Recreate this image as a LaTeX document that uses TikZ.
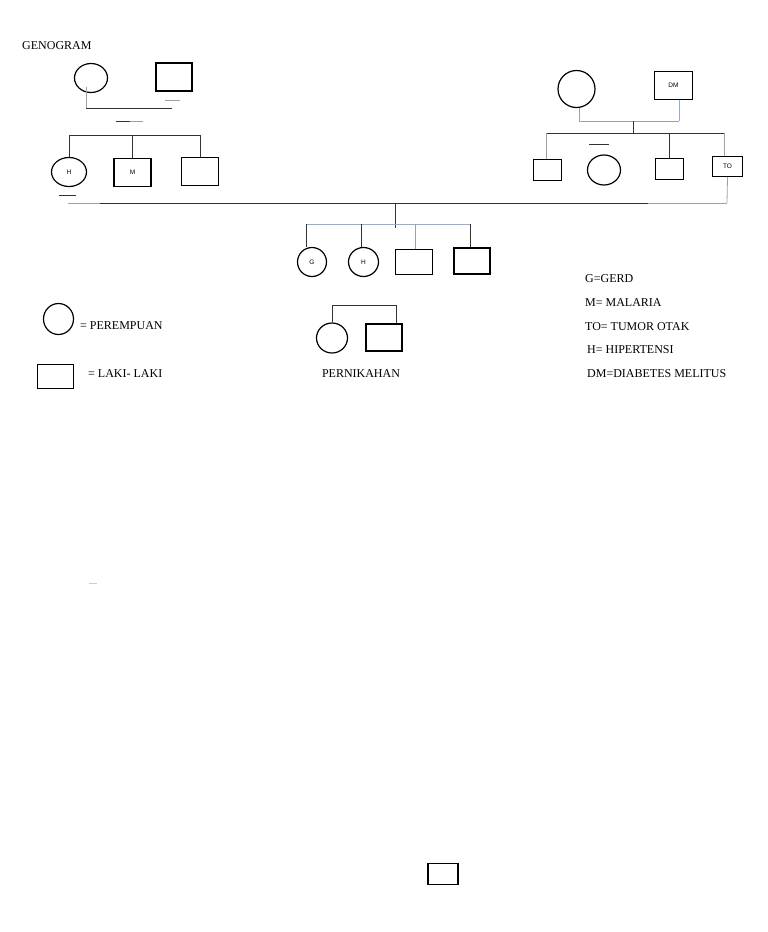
\documentclass[tikz,border=0pt]{standalone}
\usepackage{fontspec}
\setmainfont{Liberation Serif}
\setsansfont{Liberation Sans}
\usetikzlibrary{shapes.geometric}
\definecolor{ln}{HTML}{333333}
\definecolor{lg}{HTML}{A0A0A0}
\definecolor{lb}{HTML}{8FAFD6}
\begin{document}
\begin{tikzpicture}[x=1pt,y=-1pt,
  fem/.style={draw,ellipse,inner sep=0pt,line width=1.2pt},
  male/.style={draw,rectangle,inner sep=0pt,line width=1.2pt},
  malebold/.style={male,line width=1.9pt},
  malethin/.style={male,line width=0.7pt},
  sym/.style={font=\sffamily\fontsize{6.5}{7}\selectfont},
  txt/.style={font=\fontsize{12}{14}\selectfont,anchor=west,inner sep=0pt,text height=8pt,text depth=0pt},
  con/.style={ln,line width=0.8pt},
  cong/.style={lg,line width=0.8pt},
  conb/.style={lb,line width=0.8pt},
]
\fill[white] (0,0) rectangle (768,932);
\useasboundingbox (0,0) rectangle (768,932);

% title
\node[txt] (title) at (22,45) {GENOGRAM};

% top-left grandparents
\node[fem,minimum width=33pt,minimum height=29pt] (tlF) at (91,78) {};
\node[malebold,minimum width=36pt,minimum height=28pt] (tlM) at (174,77) {};
\coordinate (tlA) at (86,87);
\coordinate (tlK) at (86,108);
\coordinate (tlB) at (172,108);
\draw[cong] (tlA) -- (tlK);
\draw[con] (tlK) -- (tlB);
\draw[cong] (165,100) -- (180,100);
\draw[con] (116,121) -- (130,121);
\draw[cong] (130,121) -- (143,121);

% top-left children
\node[fem,minimum width=35pt,minimum height=29pt,sym] (tlc1) at (69,172) {H};
\node[male,line width=1.5pt,minimum width=37pt,minimum height=28pt,sym] (tlc2) at (132.5,172.5) {M};
\node[male,line width=1.5pt,minimum width=37pt,minimum height=28pt] (tlc3) at (200,171.5) {};
\draw[con] (tlc1.north) -- ++(0,-22) -| (tlc3.north);
\draw[con] (tlc2.north) -- ++(0,-23);
\draw[con] (59,195) -- (76,195);

% long connecting line
\coordinate (lnL) at (68,203);
\coordinate (lnA) at (100,203);
\coordinate (lnB) at (648,203);
\coordinate (lnR) at (727,203);
\draw[cong] (lnL) -- (lnA);
\draw[con] (lnA) -- (lnB);
\draw[cong] (lnB) -- (lnR);

% right grandparents
\node[fem,minimum size=37pt] (rF) at (576.5,89) {};
\node[male,minimum width=38pt,minimum height=28pt,sym] (rM) at (673.5,85.5) {DM};
\coordinate (rJ) at (633,121);
\coordinate (rJL) at (579,121);
\coordinate (rJR) at (679,121);
\draw[cong] ([xshift=2.5pt]rF.south) -- (rJL) -- (rJR);
\draw[conb] (rJR) -- ([xshift=5.5pt]rM.south);
\coordinate (rbL) at (546,133);
\coordinate (rbR) at (724,133);
\draw[con] (rJ) -- (rJ |- rbL);
\draw[con] (rbL) -- (rbR);

% right children
\node[male,minimum width=28pt,minimum height=21pt] (rc1) at (547.5,170) {};
\node[fem,minimum width=33pt,minimum height=30pt] (rc2) at (604,170) {};
\node[male,minimum width=28pt,minimum height=21pt] (rc3) at (669.5,169) {};
\node[male,minimum width=30pt,minimum height=20pt,sym] (rc4) at (727.5,166.5) {TO};
\draw[cong] (rbL) -- (rbL |- rc1.north);
\draw[con] (rc3.north) -- (rc3.north |- rbL);
\draw[cong] (rbR) -- (rbR |- rc4.north);
\draw[con] (589,144) -- (609,144);
\draw[cong] (rc4.south) -- (lnR);

% middle children
\coordinate (mT) at (395,203);
\coordinate (mbL) at (306,224);
\coordinate (mbR) at (470,224);
\coordinate (mbA) at (361,224);
\coordinate (mbB) at (415,224);
\draw[con] (mT) -- (395,228);
\draw[conb] (mbL) -- (mbR);
\node[fem,minimum width=29pt,minimum height=29pt,sym] (mc1) at (312,262) {G};
\node[fem,minimum width=30pt,minimum height=29pt,sym] (mc2) at (363.5,262) {H};
\node[malethin,minimum width=37pt,minimum height=25pt] (mc3) at (414,261.5) {};
\node[malebold,minimum width=36pt,minimum height=26pt] (mc4) at (472,261) {};
\draw[con] (mbL) -- (mbL |- mc1.north);
\draw[con] (mbA) -- (mbA |- mc2.north);
\draw[cong] (mbB) -- (mbB |- mc3.north);
\draw[con] (mbR) -- (mbR |- mc4.north);

% legend symbols
\node[fem,minimum width=30pt,minimum height=31pt] (lgF) at (58.5,319) {};
\node[txt] (lgFt) at (80,325.5) {= PEREMPUAN};
\node[male,line width=1.5pt,minimum width=36pt,minimum height=24pt] (lgM) at (55.5,376.5) {};
\node[txt] (lgMt) at (88,373.5) {= LAKI- LAKI};

% marriage
\node[fem,minimum width=31pt,minimum height=30pt] (mF) at (332,338) {};
\node[malebold,minimum width=36pt,minimum height=27pt] (mM) at (384,337.5) {};
\coordinate (mR) at (396,305);
\draw[con] (mF.north) |- (mR) -- (mR |- mM.north);
\node[txt,anchor=center] (mTxt) at (361,373.5) {PERNIKAHAN};

% disease legend
\node[txt] (k1) at (585,278.5) {G=GERD};
\node[txt] (k2) at (585,302) {M= MALARIA};
\node[txt] (k3) at (585,326) {TO= TUMOR OTAK};
\node[txt] (k4) at (587,349.5) {H= HIPERTENSI};
\node[txt] (k5) at (587,373.5) {DM=DIABETES MELITUS};

% stray marks
\draw[lb!60,line width=0.6pt] (89,583) -- (97,583);
\node[malebold,minimum width=30pt,minimum height=21pt] (bx) at (443,874) {};
\end{tikzpicture}
\end{document}
